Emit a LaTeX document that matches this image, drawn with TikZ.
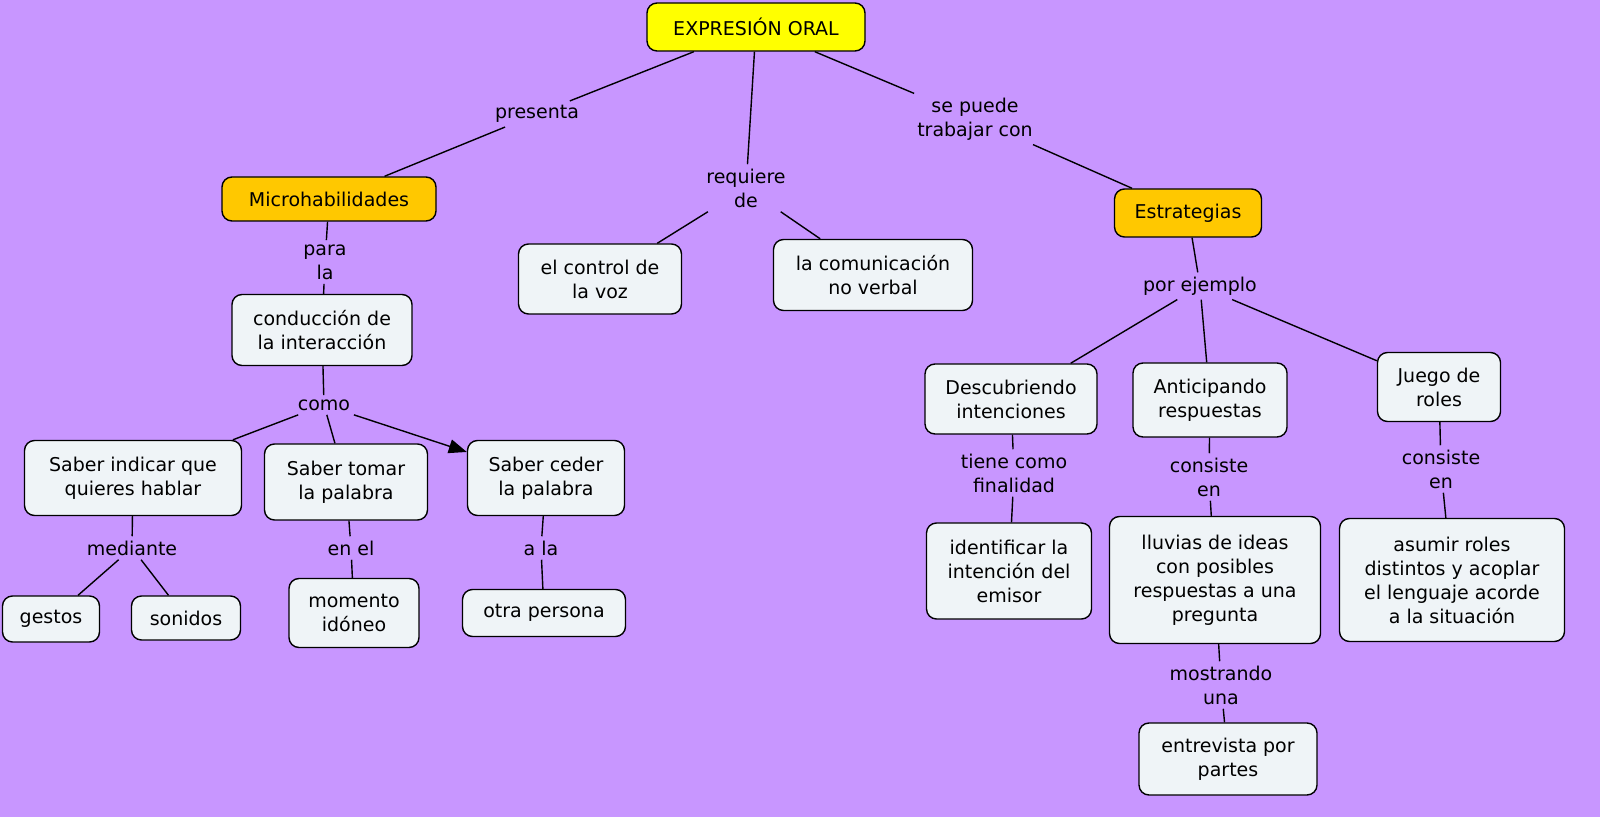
\documentclass[tikz,border=0pt]{standalone}
\usepackage{fontspec}
\setmainfont{DejaVu Sans}
\usetikzlibrary{arrows.meta}
\definecolor{bg}{HTML}{C896FF}
\definecolor{boxf}{HTML}{EFF4F7}
\definecolor{yel}{HTML}{FFFF00}
\definecolor{ora}{HTML}{FFC800}
\begin{document}
\begin{tikzpicture}[x=0.5pt,y=-0.5pt,
  box/.style={draw=black,line width=0.7pt,rounded corners=5pt,fill=boxf,align=center,font=\fontsize{9.5}{12}\selectfont,inner sep=0pt},
  lab/.style={align=center,font=\fontsize{9.5}{12}\selectfont,inner sep=2pt},
  ln/.style={line width=0.7pt}]
\fill[bg] (0,0) rectangle (1600,817);
\useasboundingbox (0,0) rectangle (1600,817);
\newcommand{\bx}[6][boxf]{\node[box,fill=#1,minimum width=#4*0.5pt,minimum height=#5*0.5pt] (#2) at #3 {#6};}
\bx[yel]{ex}{(756,27)}{218}{48}{EXPRESIÓN ORAL}
\bx[ora]{mi}{(329,199)}{214}{44}{Microhabilidades}
\bx{cv}{(600,279)}{163}{70}{el control de\\la voz}
\bx{cn}{(873,275)}{199}{71}{la comunicación\\no verbal}
\bx[ora]{es}{(1188,213)}{147}{48}{Estrategias}
\bx{co}{(322,330)}{180}{71}{conducción de\\la interacción}
\bx{si}{(133,478)}{217}{75}{Saber indicar que\\quieres hablar}
\bx{st}{(346,482)}{163}{76}{Saber tomar\\la palabra}
\bx{sc}{(546,478)}{157}{75}{Saber ceder\\la palabra}
\bx{ge}{(51,619)}{97}{46}{gestos}
\bx{so}{(186,618)}{109}{44}{sonidos}
\bx{mo}{(354,613)}{130}{69}{momento\\idóneo}
\bx{op}{(544,613)}{163}{47}{otra persona}
\bx{de}{(1011,399)}{172}{70}{Descubriendo\\intenciones}
\bx{an}{(1210,400)}{154}{74}{Anticipando\\respuestas}
\bx{ju}{(1439,387)}{123}{69}{Juego de\\roles}
\bx{id}{(1009,571)}{165}{96}{identificar la\\intención del\\emisor}
\bx{ll}{(1215,580)}{211}{127}{lluvias de ideas\\con posibles\\respuestas a una\\pregunta}
\bx{as}{(1452,580)}{225}{123}{asumir roles\\distintos y acoplar\\el lenguaje acorde\\a la situación}
\bx{en}{(1228,759)}{178}{72}{entrevista por\\partes}
\node[lab] (l1) at (537,114) {presenta};
\node[lab] (l2) at (746,188) {requiere\\de};
\node[lab] (l3) at (975,119) {se puede\\trabajar con};
\node[lab] (l4) at (325,262) {para\\la};
\node[lab] (l5) at (324,405) {como};
\node[lab] (l6) at (132,548) {mediante};
\node[lab] (l7) at (351,548) {en el};
\node[lab] (l8) at (541,548) {a la};
\node[lab] (l9) at (1200,286) {por ejemplo};
\node[lab] (l10) at (1014,473) {tiene como\\finalidad};
\node[lab] (l11) at (1209,477) {consiste\\en};
\node[lab] (l12) at (1441,469) {consiste\\en};
\node[lab] (l13) at (1221,685) {mostrando\\una};
\draw[ln] (ex) -- (l1); \draw[ln] (l1) -- (mi);
\draw[ln] (ex) -- (l2); \draw[ln] (l2) -- (cv); \draw[ln] (l2) -- (cn);
\draw[ln] (ex) -- (l3); \draw[ln] (l3) -- (es);
\draw[ln] (mi) -- (l4); \draw[ln] (l4) -- (co);
\draw[ln] (co) -- (l5); \draw[ln] (l5) -- (si); \draw[ln] (l5) -- (st);
\draw[ln,-{Triangle[length=9pt,width=7pt]}] (l5) -- (sc);
\draw[ln] (si) -- (l6); \draw[ln] (l6) -- (ge); \draw[ln] (l6) -- (so);
\draw[ln] (st) -- (l7); \draw[ln] (l7) -- (mo);
\draw[ln] (sc) -- (l8); \draw[ln] (l8) -- (op);
\draw[ln] (es) -- (l9); \draw[ln] (l9) -- (de); \draw[ln] (l9) -- (an); \draw[ln] (l9) -- (ju);
\draw[ln] (de) -- (l10); \draw[ln] (l10) -- (id);
\draw[ln] (an) -- (l11); \draw[ln] (l11) -- (ll);
\draw[ln] (ju) -- (l12); \draw[ln] (l12) -- (as);
\draw[ln] (ll) -- (l13); \draw[ln] (l13) -- (en);
\end{tikzpicture}
\end{document}
